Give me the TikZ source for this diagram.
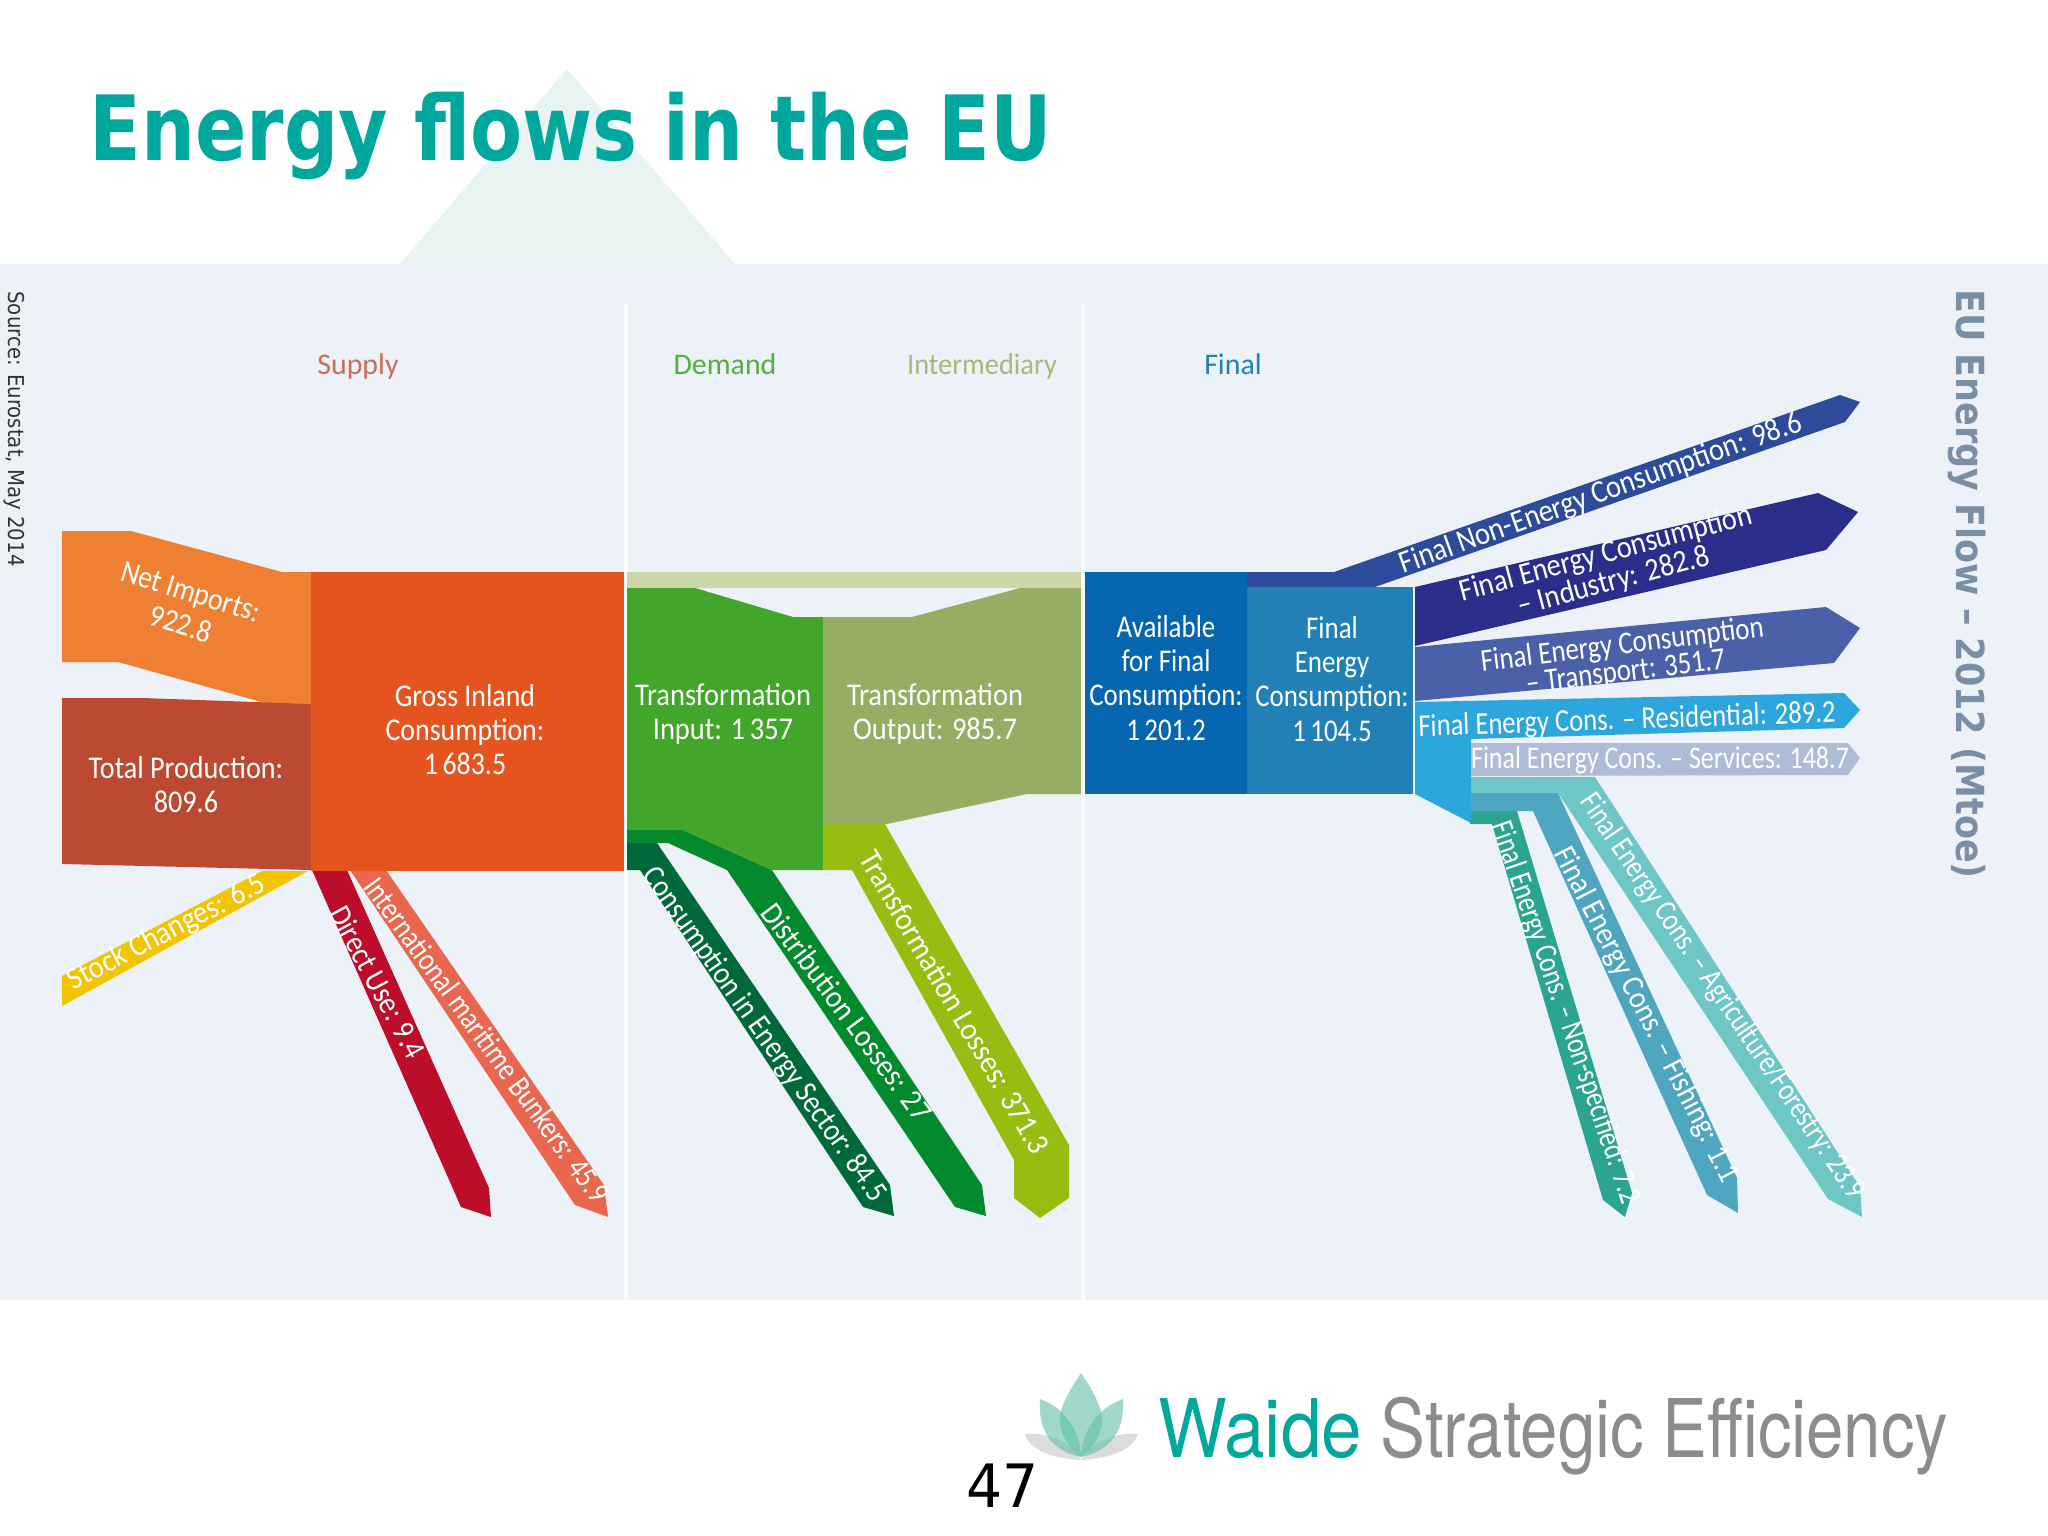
\documentclass[tikz,border=0pt]{standalone}
\usepackage{fontspec}
\setmainfont{Carlito}
\newfontfamily\srcfont{DejaVu Sans}
\newfontfamily\logofont{TeX Gyre Heros}
\definecolor{panelbg}{HTML}{EDF2F8}
\definecolor{peak}{HTML}{E8F4F2}
\definecolor{teal}{HTML}{00A79D}
\definecolor{netimp}{HTML}{EF8033}
\definecolor{totprod}{HTML}{BC4A32}
\definecolor{gross}{HTML}{E5541F}
\definecolor{stock}{HTML}{F2C500}
\definecolor{direct}{HTML}{BC0D2A}
\definecolor{bunker}{HTML}{E9674F}
\definecolor{topbar}{HTML}{CBD7A8}
\definecolor{transin}{HTML}{41A62A}
\definecolor{transout}{HTML}{95AE63}
\definecolor{transloss}{HTML}{97BD10}
\definecolor{distloss}{HTML}{028A2C}
\definecolor{sector}{HTML}{00693A}
\definecolor{avail}{HTML}{0667B0}
\definecolor{finalen}{HTML}{2180B5}
\definecolor{nonen}{HTML}{2E4A9A}
\definecolor{industry}{HTML}{2A2D8A}
\definecolor{transport}{HTML}{4A60A8}
\definecolor{resid}{HTML}{2DA6DE}
\definecolor{services}{HTML}{AEBCD8}
\definecolor{agri}{HTML}{6FC6C6}
\definecolor{fishing}{HTML}{4FA6C0}
\definecolor{nonspec}{HTML}{2BA58F}
\definecolor{lotus}{HTML}{62BFA9}
\definecolor{flowgrey}{HTML}{7A8FA3}
\tikzset{
  lab/.style={text=white, align=center, inner sep=0pt, font=\fontsize{9}{9.7}\selectfont},
  head/.style={anchor=base, inner sep=0pt, font=\fontsize{8.5}{9}\selectfont},
  petal/.style={fill=#1, opacity=.6}
}
\begin{document}
\begin{tikzpicture}[x=.01cm, y=-.01cm]
  \useasboundingbox (0,0) rectangle (2048,1536);
  \fill[white] (0,0) rectangle (2048,1536);
  \fill[peak] (567,69) -- (735,264) -- (400,264) -- cycle;
  \fill[panelbg] (0,264) rectangle (2048,1300);
  \foreach \x in {626,1083}{
    \draw[white!70!panelbg, line width=1.1pt] (\x,304) -- (\x,1300);
  }
  % supply
  \fill[netimp] (62,531) -- (131,531) -- (282,572) -- (311,572) -- (311,704) -- (265,703) -- (118,662) -- (62,662) -- cycle;
  \fill[totprod] (62,698) -- (143,698) -- (311,704) -- (311,870) -- (62,864) -- cycle;
  \fill[stock] (62,976) -- (262,871) -- (308,871) -- (62,1006) -- cycle;
  \fill[direct] (312,870) -- (347,870) -- (489,1188) -- (491,1217) -- (461,1207) -- cycle;
  \fill[bunker] (350,870) -- (386,870) -- (604,1185) -- (608,1217) -- (575,1205) -- cycle;
  \fill[gross] (311,572) rectangle (624,871);
  % demand, intermediary
  \fill[topbar] (627,572) rectangle (1081,588);
  \fill[sector] (627,843) -- (657,843) -- (890,1185) -- (894,1216) -- (863,1207) -- (640,870) -- (627,870) -- cycle;
  \fill[distloss] (627,830) -- (683,830) -- (772,870) -- (982,1185) -- (986,1216) -- (955,1207) -- (727,870) -- (668,843) -- (627,843) -- cycle;
  \fill[transin] (627,588) -- (695,588) -- (793,617) -- (823,617) -- (823,870) -- (772,870) -- (683,830) -- (627,830) -- cycle;
  \fill[transloss] (823,824) -- (885,824) -- (1069,1145) -- (1069,1198) -- (1040,1218) -- (1014,1198) -- (1014,1160) -- (852,870) -- (823,870) -- cycle;
  \fill[transout] (823,617) -- (912,617) -- (1020,588) -- (1081,588) -- (1081,794) -- (1027,794) -- (887,824) -- (823,824) -- cycle;
  % final
  \fill[avail] (1085,572) rectangle (1247,794);
  \fill[nonen] (1247,572) -- (1334,572) -- (1840,395) -- (1860,402) -- (1845,422) -- (1375,587) -- (1247,587) -- cycle;
  \fill[finalen] (1247,587) rectangle (1413,794);
  \fill[industry] (1415,587) -- (1818,493) -- (1858,512) -- (1826,550) -- (1415,646) -- cycle;
  \fill[transport] (1415,647) -- (1826,607) -- (1860,628) -- (1834,663) -- (1415,701) -- cycle;
  \fill[agri] (1470,777) -- (1595,777) -- (1860,1187) -- (1862,1217) -- (1828,1199) -- (1558,793) -- (1470,793) -- cycle;
  \fill[fishing] (1470,793) -- (1558,793) -- (1737,1178) -- (1738,1213) -- (1707,1195) -- (1533,811) -- (1470,811) -- cycle;
  \fill[nonspec] (1470,811) -- (1517,811) -- (1632,1193) -- (1625,1217) -- (1603,1200) -- (1492,824) -- (1470,824) -- cycle;
  \fill[resid] (1415,702) -- (1844,693) -- (1860,710) -- (1844,728) -- (1471,739) -- (1471,823) -- (1415,794) -- cycle;
  \fill[services] (1471,743) -- (1848,743) -- (1860,758) -- (1848,775) -- (1471,776) -- cycle;
  % labels
  \node[lab, rotate=-17, xscale=.88] (netimports) at (186,608) {Net Imports:\\922.8};
  \node[lab, xscale=.89] (totalprod) at (186,785) {Total Production:\\809.6};
  \node[lab, xscale=.88] (grossinland) at (465,730) {Gross Inland\\Consumption:\\1\,683.5};
  \node[lab, rotate=27.5, xscale=.9] (stockch) at (167,933) {Stock Changes: 6.5};
  \node[lab, rotate=-61.6, xscale=.88] (directuse) at (378,982) {Direct Use: 9.4};
  \node[lab, rotate=-54, xscale=.83] (bunkers) at (487,1040) {International maritime Bunkers: 45.9};
  \node[lab, xscale=.9] (transinput) at (723,714) {Transformation\\Input: 1\,357};
  \node[lab, xscale=.9] (transoutput) at (935,714) {Transformation\\Output: 985.7};
  \node[lab, rotate=-54.8, xscale=.87] (ensector) at (764,1035) {Consumption in Energy Sector: 84.5};
  \node[lab, rotate=-53.3, xscale=.9] (distlosses) at (847,1012) {Distribution Losses: 27};
  \node[lab, rotate=-59.6, xscale=.92] (translosses) at (955,1002) {Transformation Losses: 371.3};
  \node[lab, xscale=.85] (available) at (1166,678) {Available\\for Final\\Consumption:\\1\,201.2};
  \node[lab, xscale=.85] (finalcons) at (1332,679) {Final\\Energy\\Consumption:\\1\,104.5};
  \node[lab, rotate=19.7, xscale=.9] (nonenergy) at (1601,494) {Final Non-Energy Consumption: 98.6};
  \node[lab, rotate=15, xscale=.9] (indus) at (1610,568) {Final Energy Consumption\\[-1.5pt]– Industry: 282.8};
  \node[lab, rotate=7, xscale=.85] (transp) at (1624,659) {Final Energy Consumption\\[-2pt]– Transport: 351.7};
  \node[lab, rotate=2, xscale=.84] (residential) at (1627,721) {Final Energy Cons. – Residential: 289.2};
  \node[lab, xscale=.82] (serv) at (1660,760) {Final Energy Cons. – Services: 148.7};
  \node[lab, rotate=-55.8, xscale=.805] (agriforest) at (1722,997) {Final Energy Cons. – Agriculture/Forestry: 23.9};
  \node[lab, rotate=-62.9, xscale=.9] (fish) at (1646,1015) {Final Energy Cons. – Fishing: 1.1};
  \node[lab, rotate=-71, xscale=.8] (nonspecified) at (1565,1013) {Final Energy Cons. – Non-specified: 7.2};
  % headings
  \node[head, text=totprod!80] (supply) at (358,374) {Supply};
  \node[head, text=transin!90] (demand) at (725,374) {Demand};
  \node[head, text=transout!85, xscale=.95] (intermediary) at (982,374) {Intermediary};
  \node[head, text=finalen] (final) at (1233,374) {Final};
  \node[inner sep=0pt, rotate=-90, xscale=.905, text=black!80, font=\srcfont\fontsize{6.2}{7}\selectfont] (source) at (14,429) {Source: Eurostat, May 2014};
  \node[inner sep=0pt, rotate=-90, xscale=.905, text=flowgrey, font=\srcfont\bfseries\fontsize{11}{12}\selectfont] (flowtitle) at (1967,584) {EU Energy Flow – 2012 (Mtoe)};
  \node[anchor=base west, inner sep=0pt, xscale=.842, text=teal, font=\srcfont\bfseries\fontsize{25.6}{26}\selectfont] (title) at (89,160) {Energy flows in the EU};
  \node[anchor=base, inner sep=0pt, xscale=.95, font=\srcfont\fontsize{17}{18}\selectfont] (pagenum) at (1003,1507) {47};
  % logo
  \fill[petal=gray!45] (1081,1460) .. controls (1050,1458) and (1030,1450) .. (1025,1434) .. controls (1045,1432) and (1070,1440) .. (1081,1460) -- cycle;
  \fill[petal=gray!45] (1081,1460) .. controls (1112,1458) and (1132,1450) .. (1138,1434) .. controls (1118,1432) and (1092,1440) .. (1081,1460) -- cycle;
  \fill[petal=lotus] (1081,1457) .. controls (1050,1450) and (1038,1430) .. (1040,1399) .. controls (1065,1408) and (1080,1430) .. (1081,1457) -- cycle;
  \fill[petal=lotus] (1081,1457) .. controls (1112,1450) and (1125,1430) .. (1123,1399) .. controls (1098,1408) and (1082,1430) .. (1081,1457) -- cycle;
  \fill[petal=lotus] (1081,1373) .. controls (1066,1395) and (1058,1412) .. (1060,1425) .. controls (1063,1440) and (1072,1450) .. (1081,1457) .. controls (1090,1450) and (1099,1440) .. (1102,1425) .. controls (1104,1412) and (1096,1395) .. (1081,1373) -- cycle;
  \node[anchor=base west, inner sep=0pt, xscale=.9, text=teal, font=\logofont\fontsize{23}{24}\selectfont] (waide) at (1158,1457) {Waide};
  \node[anchor=base west, inner sep=0pt, xscale=.83, text=black!45, font=\logofont\fontsize{23}{24}\selectfont] (strategic) at (1380,1457) {Strategic Efficiency};
\end{tikzpicture}
\end{document}
